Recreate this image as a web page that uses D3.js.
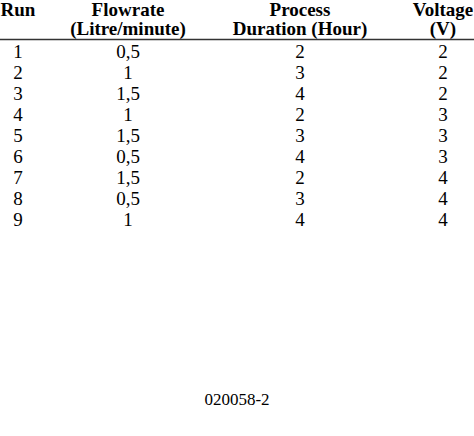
<!DOCTYPE html>
<html>
<head>
<script src="https://cdn.jsdelivr.net/npm/d3@7"></script>
<style>body{margin:0;background:#fff}</style>
</head>
<body>
<svg width="474" height="436"></svg>
<script>
var headers1 = ["Run", "Flowrate", "Process", "Voltage"];
var headers2 = ["", "(Litre/minute)", "Duration (Hour)", "(V)"];
var runs = ["1","2","3","4","5","6","7","8","9"];
var flowrate = ["0,5","1","1,5","1","1,5","0,5","1,5","0,5","1"];
var duration = ["2","3","4","2","3","4","2","3","4"];
var voltage = ["2","2","2","3","3","3","4","4","4"];

var svg = d3.select("svg");
var font = "'Liberation Serif', 'Times New Roman', serif";
var colX = [18, 128, 300, 443];
var y = d3.scaleBand().domain(runs).range([41, 230]);

// header
headers1.forEach(function(h, i){
  svg.append("text").attr("x", colX[i]).attr("y", 16).attr("text-anchor","middle")
    .attr("font-family", font).attr("font-weight","bold").attr("font-size", 19).text(h);
  svg.append("text").attr("x", colX[i]).attr("y", 35).attr("text-anchor","middle")
    .attr("font-family", font).attr("font-weight","bold").attr("font-size", 19).text(headers2[i]);
});
svg.append("line").attr("x1",0).attr("x2",474).attr("y1",39.5).attr("y2",39.5)
  .attr("stroke","#333").attr("stroke-width",1.5);

var cols = [runs, flowrate, duration, voltage];
cols.forEach(function(col, i){
  svg.selectAll(null).data(col).enter().append("text")
    .attr("x", colX[i])
    .attr("y", function(d, j){ return y(runs[j]) + y.bandwidth()/2 + 6; })
    .attr("text-anchor","middle").attr("font-family", font).attr("font-size", 19)
    .text(function(d){ return d; });
});

svg.append("text").attr("x", 237).attr("y", 405).attr("text-anchor","middle")
  .attr("font-family", font).attr("font-size", 17).text("020058-2");
</script>
</body>
</html>
